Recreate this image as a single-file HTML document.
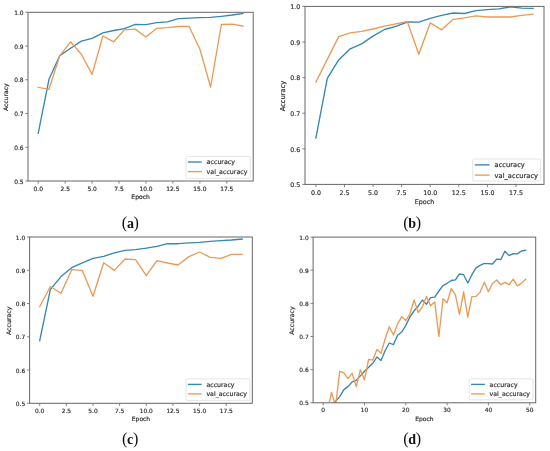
<!DOCTYPE html>
<html><head><meta charset="utf-8"><title>Accuracy curves</title>
<style>
html,body{margin:0;padding:0;background:#fff;}
svg{display:block;}
.t{font-family:"DejaVu Sans","Liberation Sans",sans-serif;fill:#2e2e2e;stroke:#2e2e2e;stroke-width:0.18;}
.cap{font-family:"Liberation Serif","DejaVu Serif",serif;font-size:14px;fill:#111;}
.cap .p{font-size:16.2px;}
.ax{stroke:#666666;stroke-width:1;fill:none;}
.tk{stroke:#666666;stroke-width:0.8;}
.b{stroke:#3787b0;stroke-width:1.35;fill:none;stroke-linejoin:round;stroke-linecap:square;}
.o{stroke:#ea9b58;stroke-width:1.35;fill:none;stroke-linejoin:round;stroke-linecap:square;}
.lg{fill:#fff;fill-opacity:.8;stroke:#d4d4d4;stroke-width:0.6;}
</style></head><body>
<svg width="550" height="451" viewBox="0 0 550 451">
<rect width="550" height="451" fill="#fff"/>
<g font-size="6.31">
<clipPath id="c0"><rect x="28.0" y="12.3" width="225.2" height="168.7"/></clipPath>
<polyline class="b" clip-path="url(#c0)" points="38.2,133.3 49.0,79.3 59.8,55.6 70.6,48.2 81.3,41.1 92.1,38.3 102.9,32.9 113.7,30.5 124.4,28.7 135.2,24.3 146.0,24.6 156.8,22.7 167.5,21.9 178.3,18.7 189.1,18.1 199.9,17.6 210.6,17.4 221.4,16.3 232.2,15.0 243.0,13.4"/>
<polyline class="o" clip-path="url(#c0)" points="38.2,87.3 49.0,89.3 59.8,55.6 70.6,41.8 81.3,54.2 92.1,74.4 102.9,36.0 113.7,41.8 124.4,29.8 135.2,29.1 146.0,37.0 156.8,28.3 167.5,27.6 178.3,26.5 189.1,26.5 199.9,49.3 210.6,87.0 221.4,24.5 232.2,24.1 243.0,26.1"/>
<rect class="ax" x="28.0" y="12.3" width="225.2" height="168.7"/>
<line class="tk" x1="25.4" y1="12.3" x2="28.0" y2="12.3"/>
<text class="t" font-size="5.93" text-anchor="end" x="23.6" y="14.9">1.0</text>
<line class="tk" x1="25.4" y1="46.0" x2="28.0" y2="46.0"/>
<text class="t" font-size="5.93" text-anchor="end" x="23.6" y="48.6">0.9</text>
<line class="tk" x1="25.4" y1="79.8" x2="28.0" y2="79.8"/>
<text class="t" font-size="5.93" text-anchor="end" x="23.6" y="82.4">0.8</text>
<line class="tk" x1="25.4" y1="113.5" x2="28.0" y2="113.5"/>
<text class="t" font-size="5.93" text-anchor="end" x="23.6" y="116.1">0.7</text>
<line class="tk" x1="25.4" y1="147.3" x2="28.0" y2="147.3"/>
<text class="t" font-size="5.93" text-anchor="end" x="23.6" y="149.9">0.6</text>
<line class="tk" x1="25.4" y1="181.0" x2="28.0" y2="181.0"/>
<text class="t" font-size="5.93" text-anchor="end" x="23.6" y="183.6">0.5</text>
<line class="tk" x1="38.2" y1="181.0" x2="38.2" y2="183.6"/>
<text class="t" font-size="5.93" text-anchor="middle" x="38.2" y="190.5">0.0</text>
<line class="tk" x1="65.2" y1="181.0" x2="65.2" y2="183.6"/>
<text class="t" font-size="5.93" text-anchor="middle" x="65.2" y="190.5">2.5</text>
<line class="tk" x1="92.1" y1="181.0" x2="92.1" y2="183.6"/>
<text class="t" font-size="5.93" text-anchor="middle" x="92.1" y="190.5">5.0</text>
<line class="tk" x1="119.0" y1="181.0" x2="119.0" y2="183.6"/>
<text class="t" font-size="5.93" text-anchor="middle" x="119.0" y="190.5">7.5</text>
<line class="tk" x1="146.0" y1="181.0" x2="146.0" y2="183.6"/>
<text class="t" font-size="5.93" text-anchor="middle" x="146.0" y="190.5">10.0</text>
<line class="tk" x1="172.9" y1="181.0" x2="172.9" y2="183.6"/>
<text class="t" font-size="5.93" text-anchor="middle" x="172.9" y="190.5">12.5</text>
<line class="tk" x1="199.9" y1="181.0" x2="199.9" y2="183.6"/>
<text class="t" font-size="5.93" text-anchor="middle" x="199.9" y="190.5">15.0</text>
<line class="tk" x1="226.8" y1="181.0" x2="226.8" y2="183.6"/>
<text class="t" font-size="5.93" text-anchor="middle" x="226.8" y="190.5">17.5</text>
<text class="t" font-size="6.05" text-anchor="middle" x="140.6" y="198.9">Epoch</text>
<text class="t" font-size="6.05" text-anchor="middle" transform="translate(8.2,97.2) rotate(-90)">Accuracy</text>
<rect class="lg" x="186.0" y="156.4" width="64.3" height="22.0" rx="1.3"/>
<line class="b" stroke-linecap="square" x1="188.5" y1="162.0" x2="201.1" y2="162.0"/>
<line class="o" stroke-linecap="square" x1="188.5" y1="171.6" x2="201.1" y2="171.6"/>
<text class="t" x="206.6" y="164.2">accuracy</text>
<text class="t" x="206.6" y="173.8">val_accuracy</text>
</g>
<text class="cap" x="130.4" y="227.7" text-anchor="middle"><tspan class="p">(</tspan><tspan font-weight="bold" dx="-0.35" dy="0.3">a</tspan><tspan class="p" dx="-0.35" dy="-0.3">)</tspan></text>
<g font-size="6.69">
<clipPath id="c1"><rect x="305.0" y="6.4" width="239.0" height="178.0"/></clipPath>
<polyline class="b" clip-path="url(#c1)" points="315.9,137.9 327.3,78.3 338.7,59.9 350.2,48.8 361.6,43.9 373.0,36.1 384.5,29.5 395.9,26.4 407.3,22.0 418.8,22.2 430.2,18.3 441.7,15.3 453.1,13.0 464.5,13.5 476.0,10.7 487.4,9.7 498.8,8.9 510.3,6.9 521.7,8.1 533.1,8.4"/>
<polyline class="o" clip-path="url(#c1)" points="315.9,82.0 327.3,59.4 338.7,36.6 350.2,32.8 361.6,31.3 373.0,29.0 384.5,26.2 395.9,23.9 407.3,21.5 418.8,54.3 430.2,22.9 441.7,29.8 453.1,19.3 464.5,17.8 476.0,15.8 487.4,17.0 498.8,17.0 510.3,17.0 521.7,15.3 533.1,14.2"/>
<rect class="ax" x="305.0" y="6.4" width="239.0" height="178.0"/>
<line class="tk" x1="302.3" y1="6.4" x2="305.0" y2="6.4"/>
<text class="t" font-size="6.29" text-anchor="end" x="300.3" y="9.1">1.0</text>
<line class="tk" x1="302.3" y1="42.0" x2="305.0" y2="42.0"/>
<text class="t" font-size="6.29" text-anchor="end" x="300.3" y="44.7">0.9</text>
<line class="tk" x1="302.3" y1="77.6" x2="305.0" y2="77.6"/>
<text class="t" font-size="6.29" text-anchor="end" x="300.3" y="80.3">0.8</text>
<line class="tk" x1="302.3" y1="113.2" x2="305.0" y2="113.2"/>
<text class="t" font-size="6.29" text-anchor="end" x="300.3" y="115.9">0.7</text>
<line class="tk" x1="302.3" y1="148.8" x2="305.0" y2="148.8"/>
<text class="t" font-size="6.29" text-anchor="end" x="300.3" y="151.5">0.6</text>
<line class="tk" x1="302.3" y1="184.4" x2="305.0" y2="184.4"/>
<text class="t" font-size="6.29" text-anchor="end" x="300.3" y="187.1">0.5</text>
<line class="tk" x1="315.9" y1="184.4" x2="315.9" y2="187.1"/>
<text class="t" font-size="6.29" text-anchor="middle" x="315.9" y="194.5">0.0</text>
<line class="tk" x1="344.5" y1="184.4" x2="344.5" y2="187.1"/>
<text class="t" font-size="6.29" text-anchor="middle" x="344.5" y="194.5">2.5</text>
<line class="tk" x1="373.0" y1="184.4" x2="373.0" y2="187.1"/>
<text class="t" font-size="6.29" text-anchor="middle" x="373.0" y="194.5">5.0</text>
<line class="tk" x1="401.6" y1="184.4" x2="401.6" y2="187.1"/>
<text class="t" font-size="6.29" text-anchor="middle" x="401.6" y="194.5">7.5</text>
<line class="tk" x1="430.2" y1="184.4" x2="430.2" y2="187.1"/>
<text class="t" font-size="6.29" text-anchor="middle" x="430.2" y="194.5">10.0</text>
<line class="tk" x1="458.8" y1="184.4" x2="458.8" y2="187.1"/>
<text class="t" font-size="6.29" text-anchor="middle" x="458.8" y="194.5">12.5</text>
<line class="tk" x1="487.4" y1="184.4" x2="487.4" y2="187.1"/>
<text class="t" font-size="6.29" text-anchor="middle" x="487.4" y="194.5">15.0</text>
<line class="tk" x1="516.0" y1="184.4" x2="516.0" y2="187.1"/>
<text class="t" font-size="6.29" text-anchor="middle" x="516.0" y="194.5">17.5</text>
<text class="t" font-size="6.43" text-anchor="middle" x="424.5" y="203.9">Epoch</text>
<text class="t" font-size="6.69" text-anchor="middle" transform="translate(284.8,96.0) rotate(-90)">Accuracy</text>
<rect class="lg" x="472.8" y="159.0" width="67.8" height="22.0" rx="1.3"/>
<line class="b" stroke-linecap="square" x1="475.5" y1="164.9" x2="488.9" y2="164.9"/>
<line class="o" stroke-linecap="square" x1="475.5" y1="175.1" x2="488.9" y2="175.1"/>
<text class="t" x="494.6" y="167.2">accuracy</text>
<text class="t" x="494.6" y="177.5">val_accuracy</text>
</g>
<text class="cap" x="412.2" y="227.7" text-anchor="middle"><tspan class="p">(</tspan><tspan font-weight="bold" dx="-0.35" dy="0.3">b</tspan><tspan class="p" dx="-0.35" dy="-0.3">)</tspan></text>
<g font-size="6.24">
<clipPath id="c2"><rect x="29.6" y="237.0" width="222.7" height="166.3"/></clipPath>
<polyline class="b" clip-path="url(#c2)" points="39.7,340.6 50.4,289.4 61.0,276.6 71.7,267.7 82.3,262.8 93.0,258.4 103.7,256.4 114.3,252.8 125.0,250.4 135.6,249.7 146.3,248.2 156.9,246.4 167.6,243.7 178.2,243.7 188.9,242.9 199.6,242.4 210.2,241.3 220.9,240.6 231.5,240.0 242.2,239.1"/>
<polyline class="o" clip-path="url(#c2)" points="39.7,306.7 50.4,286.5 61.0,293.2 71.7,269.7 82.3,270.4 93.0,296.3 103.7,262.8 114.3,270.4 125.0,259.0 135.6,259.7 146.3,275.7 156.9,260.6 167.6,263.0 178.2,265.0 188.9,256.6 199.6,252.0 210.2,257.3 220.9,258.4 231.5,254.4 242.2,254.4"/>
<rect class="ax" x="29.6" y="237.0" width="222.7" height="166.3"/>
<line class="tk" x1="27.0" y1="237.0" x2="29.6" y2="237.0"/>
<text class="t" font-size="5.86" text-anchor="end" x="25.2" y="239.6">1.0</text>
<line class="tk" x1="27.0" y1="270.3" x2="29.6" y2="270.3"/>
<text class="t" font-size="5.86" text-anchor="end" x="25.2" y="272.8">0.9</text>
<line class="tk" x1="27.0" y1="303.5" x2="29.6" y2="303.5"/>
<text class="t" font-size="5.86" text-anchor="end" x="25.2" y="306.1">0.8</text>
<line class="tk" x1="27.0" y1="336.8" x2="29.6" y2="336.8"/>
<text class="t" font-size="5.86" text-anchor="end" x="25.2" y="339.4">0.7</text>
<line class="tk" x1="27.0" y1="370.0" x2="29.6" y2="370.0"/>
<text class="t" font-size="5.86" text-anchor="end" x="25.2" y="372.6">0.6</text>
<line class="tk" x1="27.0" y1="403.3" x2="29.6" y2="403.3"/>
<text class="t" font-size="5.86" text-anchor="end" x="25.2" y="405.9">0.5</text>
<line class="tk" x1="39.7" y1="403.3" x2="39.7" y2="405.9"/>
<text class="t" font-size="5.86" text-anchor="middle" x="39.7" y="413.0">0.0</text>
<line class="tk" x1="66.4" y1="403.3" x2="66.4" y2="405.9"/>
<text class="t" font-size="5.86" text-anchor="middle" x="66.4" y="413.0">2.5</text>
<line class="tk" x1="93.0" y1="403.3" x2="93.0" y2="405.9"/>
<text class="t" font-size="5.86" text-anchor="middle" x="93.0" y="413.0">5.0</text>
<line class="tk" x1="119.6" y1="403.3" x2="119.6" y2="405.9"/>
<text class="t" font-size="5.86" text-anchor="middle" x="119.6" y="413.0">7.5</text>
<line class="tk" x1="146.3" y1="403.3" x2="146.3" y2="405.9"/>
<text class="t" font-size="5.86" text-anchor="middle" x="146.3" y="413.0">10.0</text>
<line class="tk" x1="172.9" y1="403.3" x2="172.9" y2="405.9"/>
<text class="t" font-size="5.86" text-anchor="middle" x="172.9" y="413.0">12.5</text>
<line class="tk" x1="199.6" y1="403.3" x2="199.6" y2="405.9"/>
<text class="t" font-size="5.86" text-anchor="middle" x="199.6" y="413.0">15.0</text>
<line class="tk" x1="226.2" y1="403.3" x2="226.2" y2="405.9"/>
<text class="t" font-size="5.86" text-anchor="middle" x="226.2" y="413.0">17.5</text>
<text class="t" font-size="5.99" text-anchor="middle" x="141.0" y="421.2">Epoch</text>
<text class="t" font-size="6.24" text-anchor="middle" transform="translate(10.7,320.8) rotate(-90)">Accuracy</text>
<rect class="lg" x="186.0" y="378.9" width="63.8" height="21.7" rx="1.3"/>
<line class="b" stroke-linecap="square" x1="188.5" y1="384.4" x2="201.0" y2="384.4"/>
<line class="o" stroke-linecap="square" x1="188.5" y1="393.9" x2="201.0" y2="393.9"/>
<text class="t" x="206.4" y="386.6">accuracy</text>
<text class="t" x="206.4" y="396.1">val_accuracy</text>
</g>
<text class="cap" x="130.2" y="443.5" text-anchor="middle"><tspan class="p">(</tspan><tspan font-weight="bold" dx="-0.35" dy="0.3">c</tspan><tspan class="p" dx="-0.35" dy="-0.3">)</tspan></text>
<g font-size="6.23">
<clipPath id="c3"><rect x="313.1" y="237.1" width="222.6" height="165.7"/></clipPath>
<polyline class="b" clip-path="url(#c3)" points="331.5,404.5 335.6,401.2 339.7,396.6 343.9,389.6 348.0,386.6 352.1,381.9 356.3,380.3 360.4,375.9 364.5,371.3 368.6,367.3 372.8,363.3 376.9,357.0 381.0,360.6 385.2,350.5 389.3,343.0 393.4,344.7 397.6,335.3 401.7,332.0 405.8,325.4 409.9,317.0 414.1,310.8 418.2,306.2 422.3,300.0 426.5,304.2 430.6,297.6 434.7,297.2 438.9,291.0 443.0,285.6 447.1,283.3 451.2,280.5 455.4,279.9 459.5,274.0 463.6,274.7 467.8,283.0 471.9,274.7 476.0,267.8 480.2,265.3 484.3,263.4 488.4,263.7 492.5,264.0 496.7,259.1 500.8,259.5 504.9,251.3 509.1,255.6 513.2,253.6 517.3,253.9 521.5,251.0 525.6,250.2"/>
<polyline class="o" clip-path="url(#c3)" points="327.3,412.0 331.5,392.3 335.6,406.0 339.7,371.3 343.9,372.9 348.0,378.6 352.1,373.3 356.3,386.6 360.4,369.7 364.5,379.9 368.6,359.3 372.8,360.0 376.9,349.5 381.0,353.2 385.2,338.7 389.3,326.8 393.4,335.0 397.6,324.1 401.7,316.6 405.8,320.6 409.9,314.0 414.1,300.0 418.2,312.5 422.3,306.9 426.5,296.5 430.6,305.8 434.7,301.9 438.9,336.5 443.0,298.8 447.1,302.7 451.2,288.7 455.4,294.9 459.5,314.3 463.6,291.8 467.8,317.1 471.9,296.6 476.0,296.4 480.2,292.1 484.3,282.3 488.4,291.7 492.5,283.4 496.7,280.0 500.8,284.7 504.9,282.3 509.1,284.7 513.2,279.2 517.3,285.8 521.5,283.4 525.6,279.2"/>
<rect class="ax" x="313.1" y="237.1" width="222.6" height="165.7"/>
<line class="tk" x1="310.5" y1="237.1" x2="313.1" y2="237.1"/>
<text class="t" font-size="5.86" text-anchor="end" x="308.7" y="239.7">1.0</text>
<line class="tk" x1="310.5" y1="270.2" x2="313.1" y2="270.2"/>
<text class="t" font-size="5.86" text-anchor="end" x="308.7" y="272.8">0.9</text>
<line class="tk" x1="310.5" y1="303.4" x2="313.1" y2="303.4"/>
<text class="t" font-size="5.86" text-anchor="end" x="308.7" y="306.0">0.8</text>
<line class="tk" x1="310.5" y1="336.5" x2="313.1" y2="336.5"/>
<text class="t" font-size="5.86" text-anchor="end" x="308.7" y="339.1">0.7</text>
<line class="tk" x1="310.5" y1="369.7" x2="313.1" y2="369.7"/>
<text class="t" font-size="5.86" text-anchor="end" x="308.7" y="372.2">0.6</text>
<line class="tk" x1="310.5" y1="402.8" x2="313.1" y2="402.8"/>
<text class="t" font-size="5.86" text-anchor="end" x="308.7" y="405.4">0.5</text>
<line class="tk" x1="323.2" y1="402.8" x2="323.2" y2="405.4"/>
<text class="t" font-size="5.86" text-anchor="middle" x="323.2" y="412.2">0</text>
<line class="tk" x1="364.5" y1="402.8" x2="364.5" y2="405.4"/>
<text class="t" font-size="5.86" text-anchor="middle" x="364.5" y="412.2">10</text>
<line class="tk" x1="405.8" y1="402.8" x2="405.8" y2="405.4"/>
<text class="t" font-size="5.86" text-anchor="middle" x="405.8" y="412.2">20</text>
<line class="tk" x1="447.1" y1="402.8" x2="447.1" y2="405.4"/>
<text class="t" font-size="5.86" text-anchor="middle" x="447.1" y="412.2">30</text>
<line class="tk" x1="488.4" y1="402.8" x2="488.4" y2="405.4"/>
<text class="t" font-size="5.86" text-anchor="middle" x="488.4" y="412.2">40</text>
<line class="tk" x1="529.7" y1="402.8" x2="529.7" y2="405.4"/>
<text class="t" font-size="5.86" text-anchor="middle" x="529.7" y="412.2">50</text>
<text class="t" font-size="5.98" text-anchor="middle" x="424.4" y="420.8">Epoch</text>
<text class="t" font-size="6.23" text-anchor="middle" transform="translate(294.4,320.6) rotate(-90)">Accuracy</text>
<rect class="lg" x="469.2" y="378.9" width="63.8" height="20.9" rx="1.3"/>
<line class="b" stroke-linecap="square" x1="471.7" y1="384.4" x2="484.2" y2="384.4"/>
<line class="o" stroke-linecap="square" x1="471.7" y1="393.9" x2="484.2" y2="393.9"/>
<text class="t" x="489.6" y="386.6">accuracy</text>
<text class="t" x="489.6" y="396.1">val_accuracy</text>
</g>
<text class="cap" x="412.2" y="443.5" text-anchor="middle"><tspan class="p">(</tspan><tspan font-weight="bold" dx="-0.35" dy="0.3">d</tspan><tspan class="p" dx="-0.35" dy="-0.3">)</tspan></text>
</svg></body></html>
